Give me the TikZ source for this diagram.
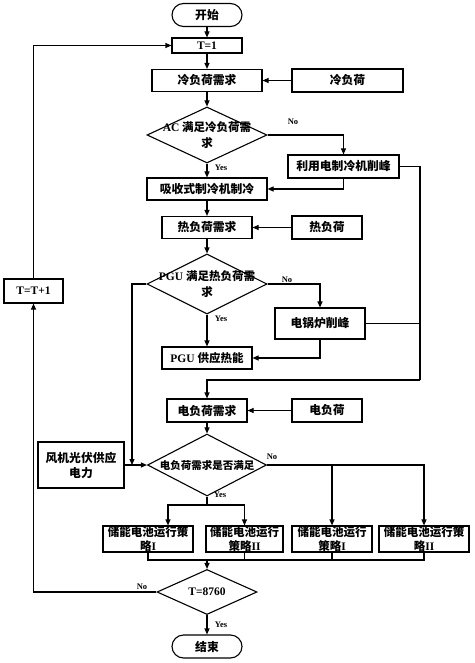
\documentclass[tikz,border=0pt]{standalone}
\usepackage{fontspec}
\setmainfont{Liberation Serif}
\newfontfamily\zhf{Noto Sans CJK SC}
\newfontfamily\lat{Liberation Serif}
\usetikzlibrary{arrows.meta,shapes.geometric,calc}
\tikzset{
  box/.style={draw, line width=1.1pt, inner sep=0pt, align=center,
    font=\zhf\bfseries\fontsize{11.8}{15}\selectfont},
  dia/.style={draw, diamond, line width=1.1pt, inner sep=0pt, aspect=2},
  term/.style={box, rounded corners=11.5pt},
  conn/.style={line width=1.1pt},
  arr/.style={conn, -{Triangle[length=6pt,width=5pt]}},
  lab/.style={font=\lat\bfseries\fontsize{8.5}{10}\selectfont, inner sep=1pt},
  strat/.style={box, minimum height=26pt, font=\zhf\bfseries\fontsize{11.5}{13.5}\selectfont},
}
\begin{document}
\begin{tikzpicture}[x=1pt,y=-1pt]
\useasboundingbox (0,0) rectangle (474,663);
% nodes
\node[term, minimum width=70pt, minimum height=23pt] (start) at (207,15) {开始};
\node[box, minimum width=70pt, minimum height=15pt, font=\lat\bfseries\fontsize{11.5}{13}\selectfont] (t1) at (207,45.5) {T=1};
\node[box, minimum width=110pt, minimum height=22pt] (cold) at (207,80.5) {冷负荷需求};
\node[box, minimum width=111pt, minimum height=23pt] (coldin) at (347.5,80.5) {冷负荷};
\node[dia, minimum width=120pt, minimum height=56pt] (d1) at (207,135) {};
\node[box, draw=none, font=\lat\bfseries\fontsize{11.5}{16}\selectfont] (d1t) at (207,135) {AC {\zhf 满足冷负荷需}\\{\zhf 求}};
\node[box, minimum width=111pt, minimum height=23pt] (chill) at (343.5,166.5) {利用电制冷机削峰};
\node[box, minimum width=120pt, minimum height=22pt] (absorb) at (207,189) {吸收式制冷机制冷};
\node[box, minimum width=90pt, minimum height=22pt] (heat) at (207,227.5) {热负荷需求};
\node[box, minimum width=70pt, minimum height=23pt] (heatin) at (327,227.5) {热负荷};
\node[dia, minimum width=120pt, minimum height=60pt] (d2) at (207,284) {};
\node[box, draw=none, font=\lat\bfseries\fontsize{11.5}{16}\selectfont] (d2t) at (207,284) {PGU {\zhf 满足热负荷需}\\{\zhf 求}};
\node[box, minimum width=90pt, minimum height=31pt] (boiler) at (320,323.5) {电锅炉削峰};
\node[box, minimum width=90pt, minimum height=22pt, font=\lat\bfseries\fontsize{11.5}{14}\selectfont] (pgu) at (207,358) {PGU {\zhf 供应热能}};
\node[box, minimum width=80pt, minimum height=23pt] (elec) at (207,410.5) {电负荷需求};
\node[box, minimum width=70pt, minimum height=23pt] (elecin) at (327,410.5) {电负荷};
\node[dia, minimum width=119pt, minimum height=62pt] (d3) at (207,465) {};
\node[box, draw=none, font=\zhf\bfseries\fontsize{10.5}{12}\selectfont] (d3t) at (207,465) {电负荷需求是否满足};
\node[box, minimum width=86pt, minimum height=46pt] (wind) at (81,465) {风机光伏供应\\电力};
\node[strat, minimum width=90pt] (s1) at (148,539) {储能电池运行策\\略{\lat I}};
\node[strat, minimum width=77pt] (s2) at (244.5,539) {储能电池运行\\策略{\lat II}};
\node[strat, minimum width=80pt] (s3) at (332,539) {储能电池运行\\策略{\lat I}};
\node[strat, minimum width=90pt] (s4) at (424,539) {储能电池运行策\\略{\lat II}};
\node[dia, minimum width=100pt, minimum height=45pt] (d4) at (207,592) {};
\node[box, draw=none, font=\lat\bfseries\fontsize{11.5}{14}\selectfont] (d4t) at (207,592) {T=8760};
\node[box, minimum width=59pt, minimum height=24pt, font=\lat\bfseries\fontsize{11.5}{14}\selectfont] (loop) at (33.5,291) {T=T+1};
\node[term, minimum width=70pt, minimum height=23pt] (end) at (207,646.5) {结束};
% helper coordinates
\coordinate (rc) at (420,380);
\coordinate (lc) at (132,465);
\coordinate (yb) at (207,505);
\coordinate (mb) at (207,560);
% connectors
\draw[arr] (start) -- (t1);
\draw[arr] (t1) -- (cold);
\draw[arr] (coldin) -- (cold);
\draw[arr] (cold) -- (d1.north);
\draw[arr] (d1.east) -| (chill.north);
\draw[arr] (d1.south) -- (absorb);
\draw[arr] (chill.south) |- (absorb.east);
\draw[conn] (chill.east) -| (rc);
\draw[arr] (rc) -| (elec.north);
\draw[arr] (absorb) -- (heat);
\draw[arr] (heatin) -- (heat);
\draw[arr] (heat) -- (d2.north);
\draw[arr] (d2.east) -| (boiler.north);
\draw[arr] (boiler.south) |- (pgu.east);
\draw[conn] (boiler.east) -- (rc |- boiler.east);
\draw[arr] (d2.south) -- (pgu);
\draw[arr] (d2.west) -| (lc);
\draw[arr] (wind) -- (d3.west);
\draw[arr] (elecin) -- (elec);
\draw[arr] (elec) -- (d3.north);
\draw[arr] (d3.east) -| (s4.north);
\draw[arr] (s3.north |- d3.east) -- (s3.north);
\draw[conn] (d3.south) -- (yb);
\draw[arr] (yb) -| ($(s1.north)+(20,0)$);
\draw[arr] (yb) -| (s2.north);
\draw[conn] (s1.south) |- (s4.south |- mb) -- (s4.south);
\draw[conn] (s2.south) -- (s2.south |- mb);
\draw[conn] (s3.south) -- (s3.south |- mb);
\draw[arr] (mb) -- (d4.north);
\draw[arr] (d4.west) -| (loop.south);
\draw[arr] (loop.north) |- (t1.west);
\draw[arr] (d4.south) -- (end);
% labels
\node[lab] (n1) at (293,122) {No};
\node[lab] (y1) at (221,168) {Yes};
\node[lab] (n2) at (287,280) {No};
\node[lab] (y2) at (221,319) {Yes};
\node[lab] (n3) at (272,457) {No};
\node[lab] (y3) at (220,495) {Yes};
\node[lab] (n4) at (142,587) {No};
\node[lab] (y4) at (221,625) {Yes};
\end{tikzpicture}
\end{document}
